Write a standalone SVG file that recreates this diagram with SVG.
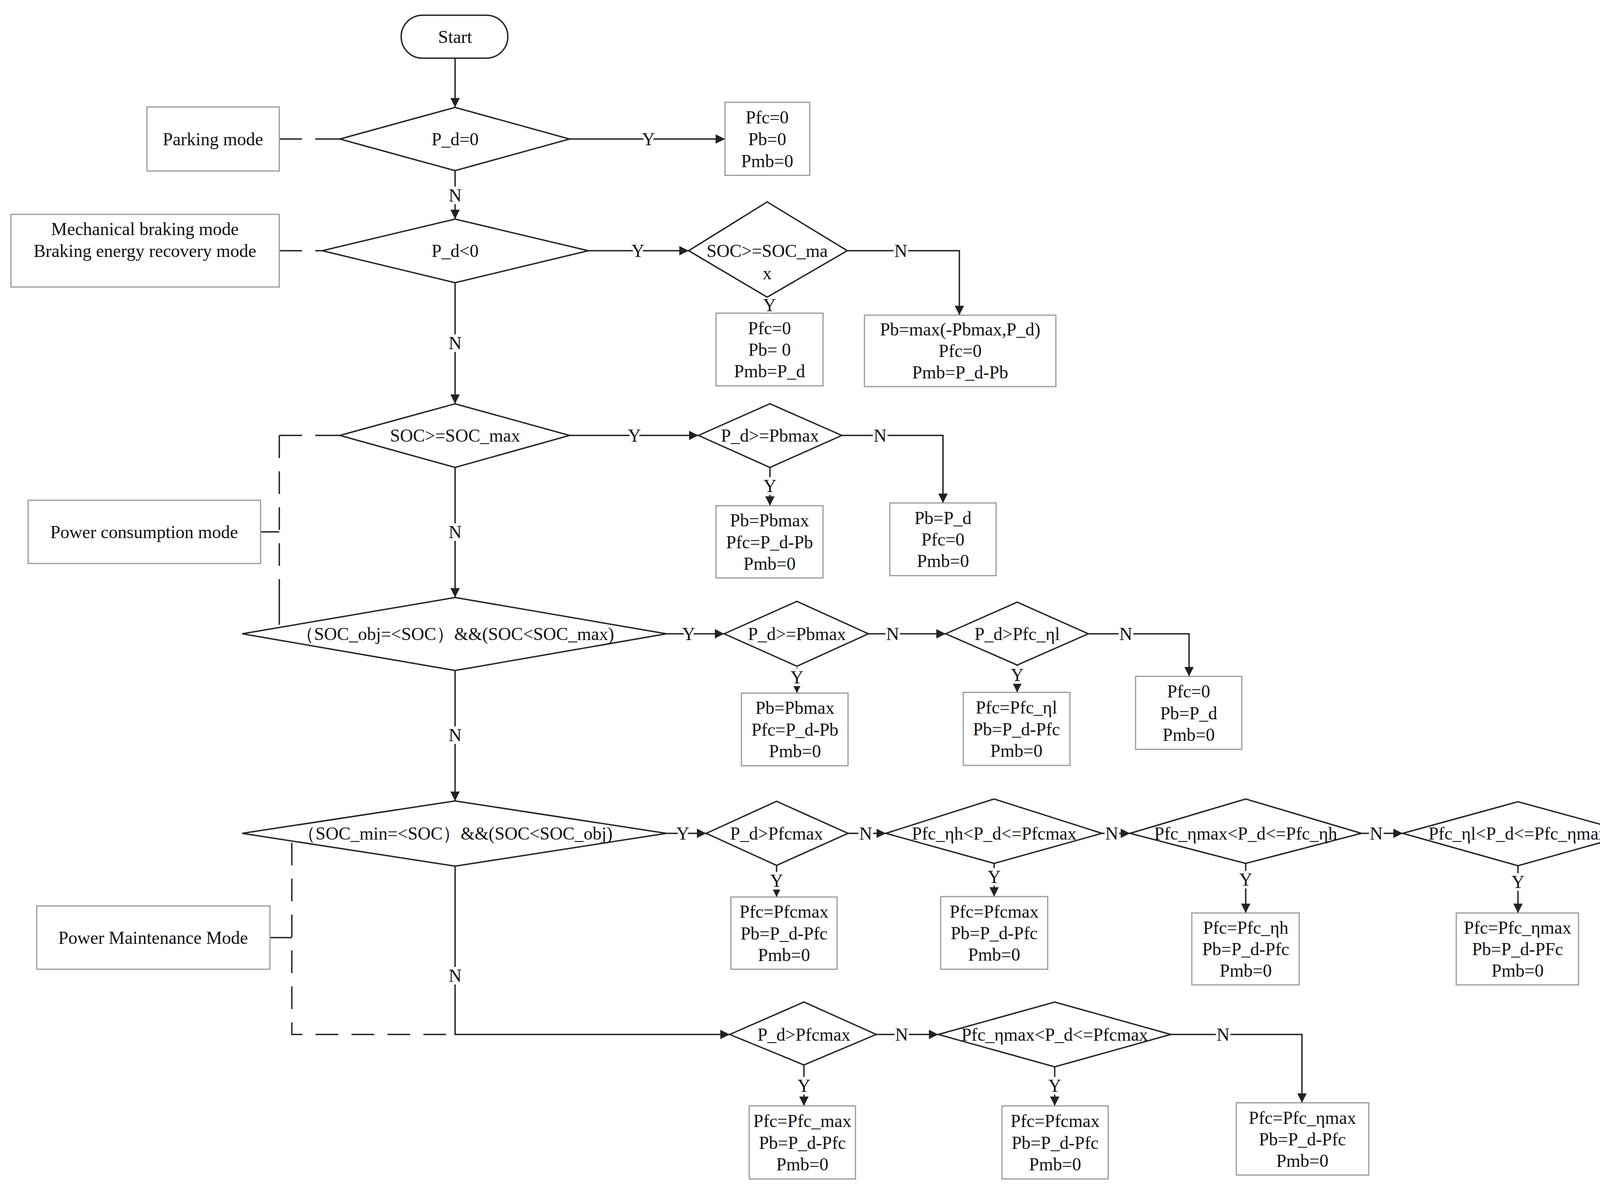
<svg xmlns="http://www.w3.org/2000/svg" width="4424" height="3055" viewBox="0 0 4424 3055">
<style>
text{font-family:"Liberation Serif","Times New Roman",serif;font-size:46px;fill:#111;text-anchor:middle;dominant-baseline:central}
.box{fill:#fff;stroke:#999;stroke-width:3}
.dia{fill:#fff;stroke:#222;stroke-width:3.5}
.ln{fill:none;stroke:#222;stroke-width:3.5}
.ar{fill:none;stroke:#222;stroke-width:3.5;marker-end:url(#a)}
.dash{fill:none;stroke:#222;stroke-width:3.5;stroke-dasharray:58 34}
.lb{stroke:#fff;stroke-width:14;paint-order:stroke}
</style>
<defs><marker id="a" viewBox="0 0 10 10" refX="10" refY="5" markerWidth="8" markerHeight="8" markerUnits="userSpaceOnUse" orient="auto"><path d="M0,0L10,5L0,10z" fill="#222" transform="scale(1)"/></marker>
<marker id="b" viewBox="0 0 10 10" refX="10" refY="5" markerWidth="7" markerHeight="7" orient="auto"><path d="M0,0L10,5L0,10z" fill="#222"/></marker></defs>
<style>.ar{marker-end:url(#b)}</style>
<g id="connectors">
<path class="ar" d="M1165,149V275"/>
<path class="ar" d="M1458,356H1856"/>
<path class="ar" d="M1165,437V561"/>
<path class="ln" d="M715,356H773M807,356H870"/>
<path class="ar" d="M1506,642H1763"/>
<path class="ln" d="M715,642H773M807,642H825"/>
<path class="ln" d="M1964,761V802"/>
<path class="ar" d="M2169,642H2456V807"/>
<path class="ar" d="M1165,724V1034"/>
<path class="ar" d="M1458,1115H1788"/>
<path class="ar" d="M1971,1197V1295"/>
<path class="ar" d="M2155,1115H2414V1288"/>
<path class="ar" d="M1165,1197V1530"/>
<path class="ln" d="M715,1115H773M807,1115H870"/>
<path class="dash" d="M715,1115V1530"/>
<path class="ln" d="M715,1530V1600"/>
<path class="ln" d="M667,1362H715"/>
<path class="ar" d="M1706,1623H1854"/>
<path class="ar" d="M2040,1710V1775"/>
<path class="ar" d="M2223,1623H2421"/>
<path class="ar" d="M2604,1703V1773"/>
<path class="ar" d="M2786,1623H3044V1732"/>
<path class="ar" d="M1165,1717V2051"/>
<path class="ar" d="M1706,2134H1808"/>
<path class="ar" d="M1988,2216V2297"/>
<path class="ar" d="M2171,2134H2268"/>
<path class="ar" d="M2545,2211V2296"/>
<path class="ar" d="M2821,2134H2893"/>
<path class="ar" d="M3189,2211V2338"/>
<path class="ar" d="M3485,2134H3591"/>
<path class="ar" d="M3886,2217V2338"/>
<path class="ln" d="M4182,2134H4256"/>
<path class="ar" d="M4274,2158V2338"/>
<path class="ar" d="M1165,2218V2649H1868"/>
<path class="ln" d="M691,2401H747"/>
<path class="dash" d="M747,2158V2649H1156"/>
<path class="ar" d="M2058,2727V2832"/>
<path class="ar" d="M2243,2649H2402"/>
<path class="ar" d="M2700,2732V2832"/>
<path class="ar" d="M2997,2649H3333V2824"/>
<text class="lb" x="1660" y="356">Y</text>
<text class="lb" x="1165" y="500">N</text>
<text class="lb" x="1633" y="642">Y</text>
<text class="lb" x="1970" y="781">Y</text>
<text class="lb" x="2306" y="642">N</text>
<text class="lb" x="1165" y="878">N</text>
<text class="lb" x="1624" y="1115">Y</text>
<text class="lb" x="1971" y="1244">Y</text>
<text class="lb" x="2253" y="1115">N</text>
<text class="lb" x="1165" y="1362">N</text>
<text class="lb" x="1763" y="1623">Y</text>
<text class="lb" x="2040" y="1734">Y</text>
<text class="lb" x="2285" y="1623">N</text>
<text class="lb" x="2604" y="1728">Y</text>
<text class="lb" x="2882" y="1623">N</text>
<text class="lb" x="1165" y="1882">N</text>
<text class="lb" x="1748" y="2134">Y</text>
<text class="lb" x="1988" y="2255">Y</text>
<text class="lb" x="2216" y="2134">N</text>
<text class="lb" x="2545" y="2245">Y</text>
<text class="lb" x="2846" y="2134">N</text>
<text class="lb" x="3189" y="2252">Y</text>
<text class="lb" x="3523" y="2134">N</text>
<text class="lb" x="3886" y="2258">Y</text>
<text class="lb" x="4256" y="2134">N</text>
<text class="lb" x="1165" y="2498">N</text>
<text class="lb" x="2058" y="2780">Y</text>
<text class="lb" x="2308" y="2649">N</text>
<text class="lb" x="2700" y="2780">Y</text>
<text class="lb" x="3131" y="2649">N</text>
</g>
<g id="start"><rect x="1027" y="39" width="273" height="110" rx="55" class="dia"/><text x="1165" y="94">Start</text></g>
<g id="parking"><rect x="376" y="274" width="339" height="164" class="box"/><text x="545" y="356">Parking mode</text></g>
<g id="d1"><polygon points="870,356 1165,275 1458,356 1165,437" class="dia"/><text x="1165" y="356">P_d=0</text></g>
<g id="r1"><rect x="1856" y="262" width="217" height="187" class="box"/><text x="1964" y="300">Pfc=0</text><text x="1964" y="356">Pb=0</text><text x="1964" y="412">Pmb=0</text></g>
<g id="mech"><rect x="28" y="549" width="687" height="186" class="box"/><text x="371" y="586">Mechanical braking mode</text><text x="371" y="642">Braking energy recovery mode</text></g>
<g id="d2"><polygon points="825,642 1165,561 1506,642 1165,724" class="dia"/><text x="1165" y="642">P_d&lt;0</text></g>
<g id="d3"><polygon points="1763,642 1964,517 2169,642 1964,761" class="dia"/><text x="1964" y="642">SOC&gt;=SOC_ma</text><text x="1964" y="699">x</text></g>
<g id="r2"><rect x="1833" y="802" width="274" height="186" class="box"/><text x="1970" y="840">Pfc=0</text><text x="1970" y="895">Pb= 0</text><text x="1970" y="950">Pmb=P_d</text></g>
<g id="r3"><rect x="2213" y="807" width="490" height="183" class="box"/><text x="2458" y="843">Pb=max(-Pbmax,P_d)</text><text x="2458" y="898">Pfc=0</text><text x="2458" y="953">Pmb=P_d-Pb</text></g>
<g id="d4"><polygon points="870,1115 1165,1034 1458,1115 1165,1197" class="dia"/><text x="1165" y="1115">SOC&gt;=SOC_max</text></g>
<g id="d5"><polygon points="1788,1115 1971,1034 2155,1115 1971,1197" class="dia"/><text x="1971" y="1115">P_d&gt;=Pbmax</text></g>
<g id="r4"><rect x="1833" y="1295" width="274" height="185" class="box"/><text x="1970" y="1332">Pb=Pbmax</text><text x="1970" y="1388">Pfc=P_d-Pb</text><text x="1970" y="1443">Pmb=0</text></g>
<g id="r5"><rect x="2278" y="1288" width="272" height="186" class="box"/><text x="2414" y="1326">Pb=P_d</text><text x="2414" y="1381">Pfc=0</text><text x="2414" y="1436">Pmb=0</text></g>
<g id="pcm"><rect x="72" y="1281" width="595" height="162" class="box"/><text x="369" y="1362">Power consumption mode</text></g>
<g id="d6"><polygon points="620,1623 1165,1530 1706,1623 1165,1717" class="dia"/><text x="1165" y="1623">（SOC_obj=&lt;SOC）&amp;&amp;(SOC&lt;SOC_max)</text></g>
<g id="d7"><polygon points="1854,1623 2040,1540 2223,1623 2040,1706" class="dia"/><text x="2040" y="1623">P_d&gt;=Pbmax</text></g>
<g id="r6"><rect x="1898" y="1775" width="273" height="186" class="box"/><text x="2035" y="1812">Pb=Pbmax</text><text x="2035" y="1868">Pfc=P_d-Pb</text><text x="2035" y="1923">Pmb=0</text></g>
<g id="d8"><polygon points="2421,1623 2604,1542 2786,1623 2604,1703" class="dia"/><text x="2604" y="1623">P_d&gt;Pfc_ηl</text></g>
<g id="r7"><rect x="2466" y="1773" width="273" height="187" class="box"/><text x="2602" y="1811">Pfc=Pfc_ηl</text><text x="2602" y="1867">Pb=P_d-Pfc</text><text x="2602" y="1922">Pmb=0</text></g>
<g id="r8"><rect x="2907" y="1732" width="272" height="187" class="box"/><text x="3043" y="1770">Pfc=0</text><text x="3043" y="1826">Pb=P_d</text><text x="3043" y="1881">Pmb=0</text></g>
<g id="d9"><polygon points="620,2134 1165,2051 1706,2134 1165,2218" class="dia"/><text x="1165" y="2134">（SOC_min=&lt;SOC）&amp;&amp;(SOC&lt;SOC_obj)</text></g>
<g id="pmm"><rect x="94" y="2320" width="597" height="162" class="box"/><text x="392" y="2401">Power Maintenance Mode</text></g>
<g id="d10"><polygon points="1808,2134 1988,2052 2171,2134 1988,2216" class="dia"/><text x="1988" y="2134">P_d&gt;Pfcmax</text></g>
<g id="r9"><rect x="1871" y="2297" width="272" height="185" class="box"/><text x="2007" y="2334">Pfc=Pfcmax</text><text x="2007" y="2390">Pb=P_d-Pfc</text><text x="2007" y="2445">Pmb=0</text></g>
<g id="d11"><polygon points="2268,2134 2545,2046 2821,2134 2545,2211" class="dia"/><text x="2545" y="2134">Pfc_ηh&lt;P_d&lt;=Pfcmax</text></g>
<g id="r10"><rect x="2408" y="2296" width="274" height="186" class="box"/><text x="2545" y="2334">Pfc=Pfcmax</text><text x="2545" y="2389">Pb=P_d-Pfc</text><text x="2545" y="2444">Pmb=0</text></g>
<g id="d12"><polygon points="2893,2134 3189,2046 3485,2134 3189,2211" class="dia"/><text x="3189" y="2134">Pfc_ηmax&lt;P_d&lt;=Pfc_ηh</text></g>
<g id="r11"><rect x="3051" y="2338" width="275" height="184" class="box"/><text x="3189" y="2375">Pfc=Pfc_ηh</text><text x="3189" y="2430">Pb=P_d-Pfc</text><text x="3189" y="2485">Pmb=0</text></g>
<g id="d13"><polygon points="3591,2134 3886,2053 4182,2134 3886,2217" class="dia"/><text x="3886" y="2134">Pfc_ηl&lt;P_d&lt;=Pfc_ηmax</text></g>
<g id="r12"><rect x="3728" y="2338" width="313" height="184" class="box"/><text x="3885" y="2375">Pfc=Pfc_ηmax</text><text x="3885" y="2430">Pb=P_d-PFc</text><text x="3885" y="2485">Pmb=0</text></g>
<g id="r13"><rect x="4104" y="2338" width="272" height="184" class="box"/><text x="4240" y="2375">Pfc=Pfc_ηl</text><text x="4240" y="2430">Pb=P_d-PFc</text><text x="4240" y="2485">Pmb=0</text></g>
<g id="d14"><polygon points="1868,2649 2058,2566 2243,2649 2058,2727" class="dia"/><text x="2058" y="2649">P_d&gt;Pfcmax</text></g>
<g id="r14"><rect x="1918" y="2832" width="272" height="187" class="box"/><text x="2054" y="2870">Pfc=Pfc_max</text><text x="2054" y="2926">Pb=P_d-Pfc</text><text x="2054" y="2981">Pmb=0</text></g>
<g id="d15"><polygon points="2402,2649 2700,2566 2997,2649 2700,2732" class="dia"/><text x="2700" y="2649">Pfc_ηmax&lt;P_d&lt;=Pfcmax</text></g>
<g id="r15"><rect x="2565" y="2832" width="272" height="187" class="box"/><text x="2701" y="2870">Pfc=Pfcmax</text><text x="2701" y="2926">Pb=P_d-Pfc</text><text x="2701" y="2981">Pmb=0</text></g>
<g id="r16"><rect x="3165" y="2824" width="339" height="185" class="box"/><text x="3334" y="2862">Pfc=Pfc_ηmax</text><text x="3334" y="2917">Pb=P_d-Pfc</text><text x="3334" y="2972">Pmb=0</text></g>
</svg>
